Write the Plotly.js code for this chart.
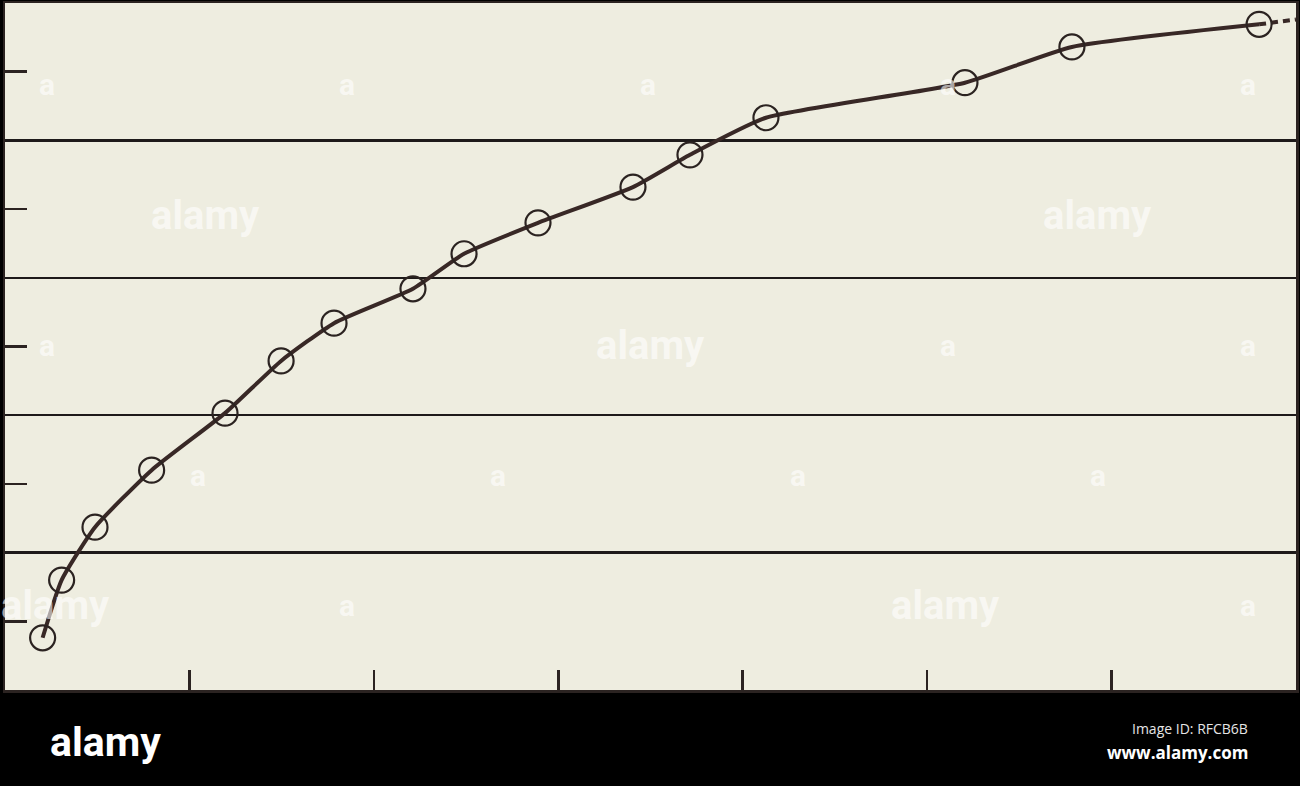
<!DOCTYPE html>
<html>
<head>
<meta charset="utf-8">
<script src="https://cdn.plot.ly/plotly-3.0.1.min.js"></script>
<style>
  html, body { margin: 0; padding: 0; background: #000; }
  #chart { width: 1300px; height: 786px; }
</style>
</head>
<body>
<div id="chart"></div>
<script>
// Data
const xValues = [0.204, 0.307, 0.488, 0.795, 1.193, 1.497, 1.784, 2.212, 2.489, 2.890, 3.405, 3.714, 4.126, 5.205, 5.785, 6.800];
const yValues = [0.76, 1.60, 2.37, 3.20, 4.03, 4.79, 5.34, 5.84, 6.35, 6.80, 7.32, 7.79, 8.33, 8.84, 9.36, 9.69];
const dashX = [6.800, 7.0];
const dashY = [9.69, 9.76];
const gridValues = [2, 4, 6, 8];
const leftTickValues = [1, 3, 5, 7, 9];
const bottomTickValues = [1, 2, 3, 4, 5, 6];

const ink = '#2b2321';
const lineInk = '#382826';

const traces = [
  {
    x: xValues, y: yValues, type: 'scatter', mode: 'lines',
    line: { color: lineInk, width: 4, shape: 'spline', smoothing: 0.5 },
    hoverinfo: 'skip', showlegend: false
  },
  {
    x: dashX, y: dashY, type: 'scatter', mode: 'lines',
    line: { color: lineInk, width: 4, dash: '7px,5px' },
    hoverinfo: 'skip', showlegend: false
  },
  {
    x: xValues, y: yValues, type: 'scatter', mode: 'markers',
    marker: { symbol: 'circle-open', size: 25, color: ink, line: { width: 2.2, color: ink } },
    hoverinfo: 'skip', showlegend: false
  }
];

// pixel helpers for watermark / footer annotations (paper coords)
const px = v => (v - 5) / 1291;
const py = v => (690 - v) / 687;
const wm = 'rgba(255,255,255,0.6)';
const wmFont = { family: 'Liberation Sans Narrow, Roboto, sans-serif', size: 40, color: wm, weight: 700 };
const wmSmall = { family: 'Liberation Sans Narrow, Roboto, sans-serif', size: 30, color: wm, weight: 700 };

const bigMarks = [[205, 215], [1097, 215], [650, 345], [55, 605], [945, 605]];
const smallMarks = [[47, 85], [347, 85], [648, 85], [948, 85], [1248, 85],
                    [47, 345], [948, 345], [1248, 345],
                    [198, 475], [498, 475], [798, 475], [1098, 475],
                    [347, 605], [1248, 605]];

const annotations = [];
bigMarks.forEach(p => annotations.push({
  text: 'alamy', xref: 'paper', yref: 'paper', x: px(p[0]), y: py(p[1]),
  xanchor: 'center', yanchor: 'middle', showarrow: false, font: wmFont
}));
smallMarks.forEach(p => annotations.push({
  text: 'a', xref: 'paper', yref: 'paper', x: px(p[0]), y: py(p[1]),
  xanchor: 'center', yanchor: 'middle', showarrow: false, font: wmSmall
}));
annotations.push({
  text: 'alamy', xref: 'paper', yref: 'paper', x: px(48), y: py(742),
  xanchor: 'left', yanchor: 'middle', showarrow: false,
  font: { family: 'Liberation Sans Narrow, Roboto, sans-serif', size: 41, color: '#ffffff', weight: 700 }
});
annotations.push({
  text: 'Image ID: RFCB6B', xref: 'paper', yref: 'paper', x: px(1250), y: py(728),
  xanchor: 'right', yanchor: 'middle', showarrow: false,
  font: { family: 'Open Sans, sans-serif', size: 14, color: '#e6e6e6' }
});
annotations.push({
  text: '<b>www.alamy.com</b>', xref: 'paper', yref: 'paper', x: px(1250), y: py(752),
  xanchor: 'right', yanchor: 'middle', showarrow: false,
  font: { family: 'Open Sans, sans-serif', size: 17, color: '#ffffff' }
});

const layout = {
  width: 1300, height: 786,
  margin: { l: 5, r: 4, t: 3, b: 96, pad: 0 },
  paper_bgcolor: '#000000',
  plot_bgcolor: '#eeede0',
  showlegend: false,
  xaxis: {
    range: [0, 7], showgrid: false, zeroline: false,
    tickmode: 'array', tickvals: bottomTickValues, ticks: 'inside', ticklen: 20, tickwidth: 2.5, tickcolor: ink,
    showticklabels: false, showline: true, mirror: true, linecolor: ink, linewidth: 2.5
  },
  yaxis: {
    range: [0, 10], zeroline: false,
    tickmode: 'array', tickvals: gridValues, ticks: '', showticklabels: false,
    showgrid: true, gridcolor: '#1e1a1a', gridwidth: 2.5,
    minor: { tickmode: 'array', tickvals: leftTickValues, ticks: 'inside', ticklen: 22, tickwidth: 2.5, tickcolor: ink, showgrid: false },
    showline: true, mirror: true, linecolor: ink, linewidth: 2.5
  },
  annotations: annotations
};

Plotly.newPlot('chart', traces, layout, { staticPlot: true, displayModeBar: false });
</script>
</body>
</html>
